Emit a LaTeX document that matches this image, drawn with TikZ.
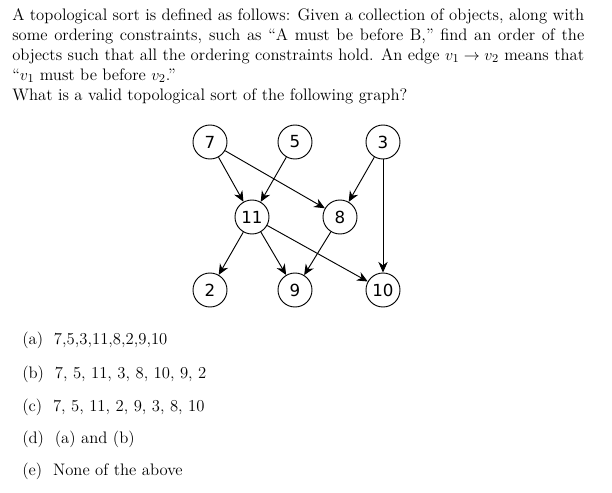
\documentclass[tikz,border=0pt]{standalone}
\usepackage{fontspec}
\newfontfamily\gfont{DejaVu Sans}
\usetikzlibrary{arrows.meta}
\begin{document}
\begin{tikzpicture}[x=0.75pt,y=-0.75pt,
  vtx/.style={circle,draw,line width=0.7pt,minimum size=25.5pt,inner sep=0pt,font=\gfont\fontsize{12.5}{13}\selectfont},
  edge/.style={-{Stealth[length=8pt,width=7pt]},line width=0.7pt},
  txt/.style={anchor=north west,inner sep=0pt,font=\fontsize{12.5}{15}\selectfont},
  opt/.style={anchor=west,inner sep=0pt,font=\fontsize{12.5}{15}\selectfont}]
\useasboundingbox (0,0) rectangle (612,493);
\node[txt,text width=429pt,align=justify] (q) at (12,8) {A topological sort is defined as follows: Given a collection of objects, along with some ordering constraints, such as ``A must be before B,'' find an order of the objects such that all the ordering constraints hold. An edge $v_1\rightarrow v_2$ means that ``$v_1$ must be before $v_2$.''\par\noindent What is a valid topological sort of the following graph?};
\node[vtx] (n7) at (210,142) {7};
\node[vtx] (n5) at (295,142) {5};
\node[vtx] (n3) at (383,142) {3};
\node[vtx] (n11) at (252,217) {11};
\node[vtx] (n8) at (340,217) {8};
\node[vtx] (n2) at (210,290) {2};
\node[vtx] (n9) at (295,290) {9};
\node[vtx] (n10) at (383,290) {10};
\draw[edge] (n7) -- (n11);
\draw[edge] (n7) -- (n8);
\draw[edge] (n5) -- (n11);
\draw[edge] (n3) -- (n8);
\draw[edge] (n3) -- (n10);
\draw[edge] (n11) -- (n2);
\draw[edge] (n11) -- (n9);
\draw[edge] (n11) -- (n10);
\draw[edge] (n8) -- (n9);
\node[opt] (a) at (22,340) {(a)\ \ 7,5,3,11,8,2,9,10};
\node[opt] (b) at (22,374) {(b)\ \ 7, 5, 11, 3, 8, 10, 9, 2};
\node[opt] (c) at (22,407) {(c)\ \ 7, 5, 11, 2, 9, 3, 8, 10};
\node[opt] (d) at (22,439) {(d)\ \ (a) and (b)};
\node[opt] (e) at (22,471) {(e)\ \ None of the above};
\end{tikzpicture}
\end{document}
